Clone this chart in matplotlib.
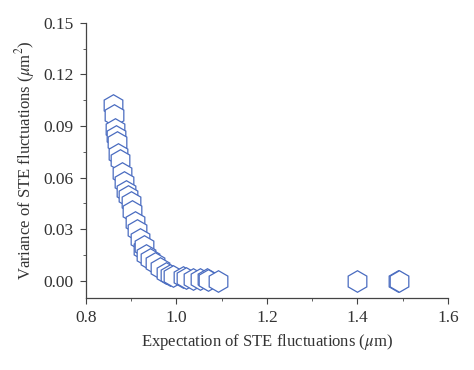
import numpy as np
import matplotlib
matplotlib.use("Agg")
import matplotlib.pyplot as plt
from matplotlib.ticker import MultipleLocator, FormatStrFormatter

plt.rcParams['font.family'] = ['Liberation Serif', 'DejaVu Serif']
plt.rcParams['mathtext.fontset'] = 'stix'

# expectation (um) and variance (um^2) of STE fluctuations
expect = [0.860, 0.863, 0.864, 0.866, 0.868, 0.872, 0.875, 0.879, 0.885, 0.888,
          0.894, 0.900, 0.901, 0.908, 0.913, 0.919, 0.926, 0.928, 0.934, 0.941,
          0.952, 0.964, 0.977, 0.986, 0.993, 1.015, 1.022, 1.037, 1.052, 1.067,
          1.070, 1.092, 1.400, 1.490, 1.492]
variance = [0.1020, 0.0966, 0.0880, 0.0840, 0.0805, 0.0740, 0.0705, 0.0627, 0.0572, 0.0520,
            0.0490, 0.0458, 0.0404, 0.0340, 0.0297, 0.0243, 0.0185, 0.0204, 0.0151, 0.0125,
            0.0103, 0.0074, 0.0045, 0.0035, 0.0029, 0.0021, 0.0018, 0.0010, 0.0008, 0.0010,
            0.0006, 0.0000, 0.0000, 0.0000, -0.0002]

fig = plt.figure(figsize=(4.74, 3.70), dpi=100)
ax = fig.add_axes([0.181, 0.195, 0.764, 0.743])

ax.plot(expect, variance, linestyle='none', marker='h', markersize=15.5,
        markerfacecolor='white', markeredgecolor='#4a6cc0', markeredgewidth=0.9)

ax.set_xlim(0.8, 1.6)
ax.set_ylim(-0.01, 0.15)
ax.xaxis.set_major_locator(MultipleLocator(0.2))
ax.xaxis.set_minor_locator(MultipleLocator(0.1))
ax.yaxis.set_major_locator(MultipleLocator(0.03))
ax.yaxis.set_minor_locator(MultipleLocator(0.015))
ax.xaxis.set_major_formatter(FormatStrFormatter('%.1f'))
ax.yaxis.set_major_formatter(FormatStrFormatter('%.2f'))

for s in ['top', 'right']:
    ax.spines[s].set_visible(False)
for s in ['left', 'bottom']:
    ax.spines[s].set_color('#444444')
    ax.spines[s].set_linewidth(0.9)
ax.tick_params(which='both', direction='out', color='#444444', labelsize=12.5, labelcolor='#333333')
ax.tick_params(which='major', length=4, pad=5)
ax.tick_params(which='minor', length=2.5)

ax.set_xlabel('Expectation of STE fluctuations ($\\mu$m)', fontsize=12, color='#333333')
ax.set_ylabel('Variance of STE fluctuations ($\\mu$m$^2$)', fontsize=12, color='#333333')

fig.savefig('out.png', dpi=100)
